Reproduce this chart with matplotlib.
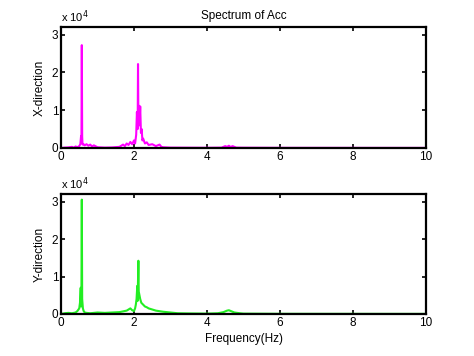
import matplotlib.pyplot as plt

plt.rcParams['font.family'] = ['Liberation Sans', 'DejaVu Sans']
plt.rcParams['font.size'] = 8.5

# espectro direccion X
freq_x = [0, 0.1, 0.2, 0.3, 0.35, 0.4, 0.45, 0.5, 0.53, 0.55, 0.56, 0.57, 0.58,
          0.59, 0.62, 0.65, 0.7, 0.75, 0.8, 0.85, 0.9, 1.0, 1.2, 1.4, 1.6, 1.7,
          1.75, 1.8, 1.85, 1.9, 1.95, 2.0, 2.03, 2.06, 2.08, 2.1, 2.11, 2.12,
          2.13, 2.15, 2.17, 2.19, 2.21, 2.23, 2.25, 2.3, 2.35, 2.4, 2.5, 2.6,
          2.7, 2.75, 2.8, 3.0, 3.5, 4.0, 4.4, 4.5, 4.55, 4.6, 4.65, 4.7, 4.8,
          5.0, 6.0, 8.0, 10.0]
amp_x = [0, 100, 150, 300, 100, 400, 200, 500, 1000, 3200, 1500, 27200, 3000,
         900, 1000, 700, 1000, 600, 900, 400, 700, 200, 100, 150, 300, 900,
         500, 1200, 800, 1600, 1000, 2000, 1200, 3500, 9500, 5000, 22200, 8000,
         11200, 6000, 11000, 4000, 5000, 2000, 2500, 1200, 1500, 800, 1000, 500,
         900, 300, 200, 100, 80, 60, 100, 500, 300, 600, 250, 500, 100,
         80, 50, 40, 30]

# espectro direccion Y
freq_y = [0, 0.1, 0.2, 0.3, 0.4, 0.45, 0.5, 0.52, 0.54, 0.55, 0.56, 0.57, 0.58,
          0.6, 0.62, 0.65, 0.7, 0.8, 0.9, 1.0, 1.2, 1.4, 1.6, 1.7, 1.8, 1.85,
          1.9, 1.95, 2.0, 2.03, 2.05, 2.07, 2.09, 2.1, 2.11, 2.12, 2.13, 2.15,
          2.17, 2.2, 2.25, 2.3, 2.35, 2.4, 2.5, 2.6, 2.8, 3.0, 3.2, 3.5, 4.0,
          4.3, 4.45, 4.55, 4.6, 4.65, 4.75, 4.9, 5.0, 6.0, 8.0, 10.0]
amp_y = [0, 200, 300, 200, 400, 800, 1500, 3000, 7000, 2000, 6000, 30500, 4000,
         1500, 800, 400, 300, 200, 300, 400, 300, 400, 500, 700, 900, 1200,
         1500, 1000, 800, 1500, 2500, 4000, 7500, 3500, 9000, 14200, 6000, 5000,
         4000, 3000, 2500, 2000, 1800, 1500, 1200, 900, 600, 400, 200, 150, 100,
         200, 500, 900, 1000, 800, 400, 200, 100, 50, 40, 30]

fig = plt.figure(figsize=(4.74, 3.56), dpi=100)
ax1 = fig.add_axes([61/474, 1-148/356, 365/474, 121/356])
ax2 = fig.add_axes([61/474, 1-314/356, 365/474, 120/356])

ax1.plot(freq_x, amp_x, color='#ff00ff', linewidth=1.5)
ax2.plot(freq_y, amp_y, color='#22ee22', linewidth=1.5)

for ax in (ax1, ax2):
    ax.set_xlim(0, 10)
    ax.set_ylim(0, 32000)
    ax.set_xticks([0, 2, 4, 6, 8, 10])
    ax.set_yticks([0, 10000, 20000, 30000])
    ax.ticklabel_format(axis='y', style='sci', scilimits=(4, 4))
    ax.yaxis.get_offset_text().set_visible(False)
    ax.tick_params(direction='in', top=True, right=True, length=3, width=1.2, pad=2)
    for s in ax.spines.values():
        s.set_linewidth(1.6)
    ax.text(0.0, 1.02, r'x 10$^4$', transform=ax.transAxes, fontsize=8, va='bottom')

ax1.set_title('Spectrum of Acc', fontsize=8.5, pad=6)
ax1.set_ylabel('X-direction', labelpad=4)
ax2.set_ylabel('Y-direction', labelpad=4)
ax2.set_xlabel('Frequency(Hz)', labelpad=3)

plt.savefig('out.png', dpi=100)
